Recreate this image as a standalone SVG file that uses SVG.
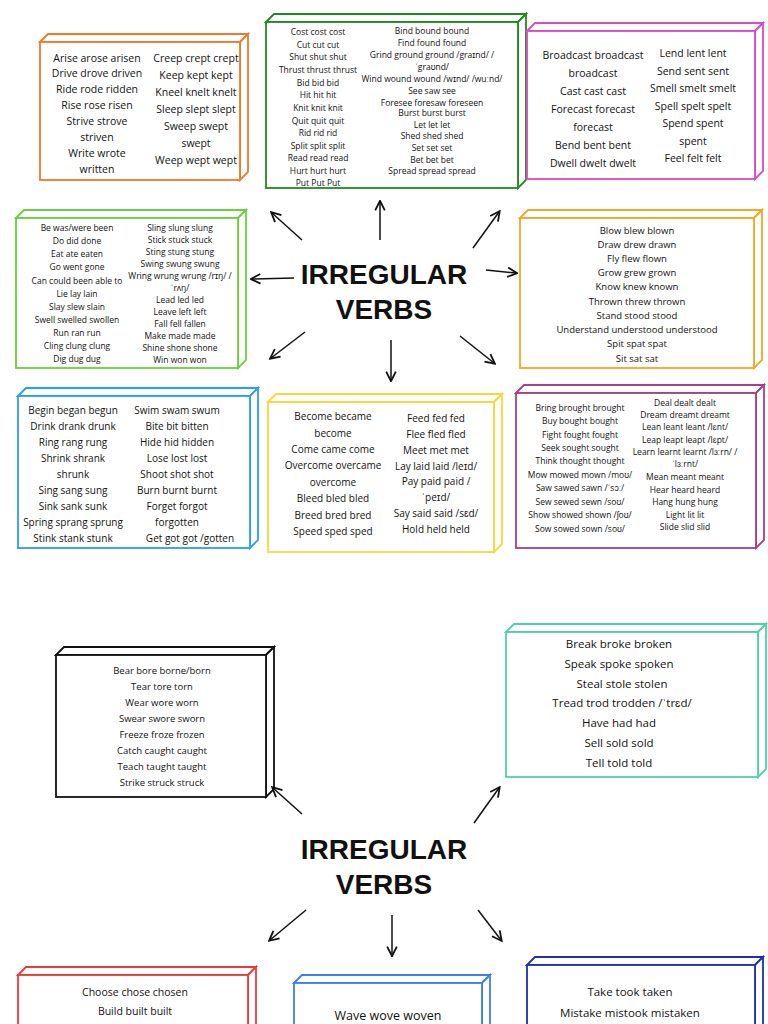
<svg xmlns="http://www.w3.org/2000/svg" width="768" height="1024" viewBox="0 0 768 1024">
<defs>
<marker id="ah" viewBox="0 0 10 10" refX="8" refY="5" markerWidth="8" markerHeight="8" orient="auto"><path d="M1,1 L9,5 L1,9" fill="none" stroke="#111" stroke-width="1.5"/></marker>
</defs>
<style>
text{font-family:"Open Sans","Liberation Sans",sans-serif;fill:#111;text-anchor:middle}
.s{font-size:10.5px}.xs{font-size:8.5px}.m{font-size:11.5px}.l{font-size:12.5px}
.t{font-family:"Liberation Sans",sans-serif;font-weight:bold;font-size:28px}
.f{fill:#fff;stroke-width:1.8}
.c{fill:none;stroke:#111;stroke-width:1.5;marker-end:url(#ah)}
</style>
<rect width="768" height="1024" fill="#fff"/>

<g id="box-orange" stroke="#f07a2a">
<polygon class="f" points="40,42 48,34 248,34 240,42"/><polygon class="f" points="240,42 248,34 248,172 240,180"/>
<rect class="f" x="40" y="42" width="200" height="138"/>
<g stroke="none"><text class="s" x="97" y="62">Arise arose arisen</text><text class="s" x="97" y="77">Drive drove driven</text><text class="s" x="97" y="93">Ride rode ridden</text><text class="s" x="97" y="109">Rise rose risen</text><text class="s" x="97" y="125">Strive strove</text><text class="s" x="97" y="141">striven</text><text class="s" x="97" y="157">Write wrote</text><text class="s" x="97" y="173">written</text>
<text class="s" x="196" y="62">Creep crept crept</text><text class="s" x="196" y="79">Keep kept kept</text><text class="s" x="196" y="96">Kneel knelt knelt</text><text class="s" x="196" y="113">Sleep slept slept</text><text class="s" x="196" y="130">Sweep swept</text><text class="s" x="196" y="147">swept</text><text class="s" x="196" y="164">Weep wept wept</text></g>
</g>

<g id="box-green" stroke="#1e8a1e">
<polygon class="f" points="266,22 274,14 526,14 518,22"/><polygon class="f" points="518,22 526,14 526,180 518,188"/>
<rect class="f" x="266" y="22" width="252" height="166"/>
<g stroke="none" class="xs">
<text x="318" y="35">Cost cost cost</text><text x="318" y="48">Cut cut cut</text><text x="318" y="60">Shut shut shut</text><text x="318" y="73">Thrust thrust thrust</text><text x="318" y="86">Bid bid bid</text><text x="318" y="98">Hit hit hit</text><text x="318" y="111">Knit knit knit</text><text x="318" y="124">Quit quit quit</text><text x="318" y="136">Rid rid rid</text><text x="318" y="149">Split split split</text><text x="318" y="161">Read read read</text><text x="318" y="174">Hurt hurt hurt</text><text x="318" y="186">Put Put Put</text>
<text x="432" y="34">Bind bound bound</text><text x="432" y="46">Find found found</text><text x="432" y="58">Grind ground ground /graɪnd/ /</text><text x="432" y="70">ˈgraʊnd/</text><text x="432" y="82">Wind wound wound /wɪnd/ /wuːnd/</text><text x="432" y="94">See saw see</text><text x="432" y="106">Foresee foresaw foreseen</text><text x="432" y="116">Burst burst burst</text><text x="432" y="128">Let let let</text><text x="432" y="139">Shed shed shed</text><text x="432" y="151">Set set set</text><text x="432" y="163">Bet bet bet</text><text x="432" y="174">Spread spread spread</text></g>
</g>

<g id="box-magenta" stroke="#d94bc6">
<polygon class="f" points="527,31 535,23 763,23 755,31"/><polygon class="f" points="755,31 763,23 763,171 755,179"/>
<rect class="f" x="527" y="31" width="228" height="148"/>
<g stroke="none" class="s"><text x="593" y="59">Broadcast broadcast</text><text x="593" y="77">broadcast</text><text x="593" y="95">Cast cast cast</text><text x="593" y="113">Forecast forecast</text><text x="593" y="131">forecast</text><text x="593" y="149">Bend bent bent</text><text x="593" y="167">Dwell dwelt dwelt</text>
<text x="693" y="57">Lend lent lent</text><text x="693" y="75">Send sent sent</text><text x="693" y="92">Smell smelt smelt</text><text x="693" y="110">Spell spelt spelt</text><text x="693" y="127">Spend spent</text><text x="693" y="145">spent</text><text x="693" y="162">Feel felt felt</text></g>
</g>

<g id="box-lightgreen" stroke="#6ad13e">
<polygon class="f" points="16,218 24,210 246,210 238,218"/><polygon class="f" points="238,218 246,210 246,360 238,368"/>
<rect class="f" x="16" y="218" width="222" height="150"/>
<g stroke="none" class="xs"><text x="77" y="231">Be was/were been</text><text x="77" y="244">Do did done</text><text x="77" y="257">Eat ate eaten</text><text x="77" y="270">Go went gone</text><text x="77" y="284">Can could been able to</text><text x="77" y="297">Lie lay lain</text><text x="77" y="310">Slay slew slain</text><text x="77" y="323">Swell swelled swollen</text><text x="77" y="336">Run ran run</text><text x="77" y="349">Cling clung clung</text><text x="77" y="362">Dig dug dug</text>
<text x="180" y="231">Sling slung slung</text><text x="180" y="243">Stick stuck stuck</text><text x="180" y="255">Sting stung stung</text><text x="180" y="267">Swing swung swung</text><text x="180" y="279">Wring wrung wrung /rɪŋ/ /</text><text x="180" y="291">ˈrʌŋ/</text><text x="180" y="303">Lead led led</text><text x="180" y="315">Leave left left</text><text x="180" y="327">Fall fell fallen</text><text x="180" y="339">Make made made</text><text x="180" y="351">Shine shone shone</text><text x="180" y="363">Win won won</text></g>
</g>

<g id="box-amber" stroke="#f5a623">
<polygon class="f" points="520,218 528,210 762,210 754,218"/><polygon class="f" points="754,218 762,210 762,360 754,368"/>
<rect class="f" x="520" y="218" width="234" height="150"/>
<g stroke="none" style="font-size:9.5px"><text x="637" y="234">Blow blew blown</text><text x="637" y="248">Draw drew drawn</text><text x="637" y="262">Fly flew flown</text><text x="637" y="276">Grow grew grown</text><text x="637" y="290">Know knew known</text><text x="637" y="305">Thrown threw thrown</text><text x="637" y="319">Stand stood stood</text><text x="637" y="333">Understand understood understood</text><text x="637" y="347">Spit spat spat</text><text x="637" y="362">Sit sat sat</text></g>
</g>

<g id="box-blue" stroke="#2a9df4">
<polygon class="f" points="18,396 26,388 258,388 250,396"/><polygon class="f" points="250,396 258,388 258,540 250,548"/>
<rect class="f" x="18" y="396" width="232" height="152"/>
<g stroke="none" style="font-size:10px"><text x="73" y="414">Begin began begun</text><text x="73" y="430">Drink drank drunk</text><text x="73" y="446">Ring rang rung</text><text x="73" y="462">Shrink shrank</text><text x="73" y="478">shrunk</text><text x="73" y="494">Sing sang sung</text><text x="73" y="510">Sink sank sunk</text><text x="73" y="526">Spring sprang sprung</text><text x="73" y="542">Stink stank stunk</text>
<text x="177" y="414">Swim swam swum</text><text x="177" y="430">Bite bit bitten</text><text x="177" y="446">Hide hid hidden</text><text x="177" y="462">Lose lost lost</text><text x="177" y="478">Shoot shot shot</text><text x="177" y="494">Burn burnt burnt</text><text x="177" y="510">Forget forgot</text><text x="177" y="526">forgotten</text><text x="190" y="542">Get got got /gotten</text></g>
</g>

<g id="box-yellow" stroke="#f7d83a">
<polygon class="f" points="268,402 276,394 502,394 494,402"/><polygon class="f" points="494,402 502,394 502,544 494,552"/>
<rect class="f" x="268" y="402" width="226" height="150"/>
<g stroke="none" style="font-size:10px"><text x="333" y="420">Become became</text><text x="333" y="437">become</text><text x="333" y="453">Come came come</text><text x="333" y="469">Overcome overcame</text><text x="333" y="486">overcome</text><text x="333" y="502">Bleed bled bled</text><text x="333" y="519">Breed bred bred</text><text x="333" y="535">Speed sped sped</text>
<text x="436" y="422">Feed fed fed</text><text x="436" y="438">Flee fled fled</text><text x="436" y="454">Meet met met</text><text x="436" y="470">Lay laid laid /leɪd/</text><text x="436" y="485">Pay paid paid /</text><text x="436" y="501">ˈpeɪd/</text><text x="436" y="517">Say said said /sɛd/</text><text x="436" y="533">Hold held held</text></g>
</g>

<g id="box-purple" stroke="#a83e8c">
<polygon class="f" points="516,393 524,385 764,385 756,393"/><polygon class="f" points="756,393 764,385 764,540 756,548"/>
<rect class="f" x="516" y="393" width="240" height="155"/>
<g stroke="none" class="xs"><text x="580" y="411">Bring brought brought</text><text x="580" y="424">Buy bought bought</text><text x="580" y="438">Fight fought fought</text><text x="580" y="451">Seek sought sought</text><text x="580" y="464">Think thought thought</text><text x="580" y="478">Mow mowed mown /moʊ/</text><text x="580" y="491">Saw sawed sawn /ˈsɔː/</text><text x="580" y="505">Sew sewed sewn /soʊ/</text><text x="580" y="518">Show showed shown /ʃoʊ/</text><text x="580" y="532">Sow sowed sown /soʊ/</text>
<text x="685" y="406">Deal dealt dealt</text><text x="685" y="418">Dream dreamt dreamt</text><text x="685" y="430">Lean leant leant /lɛnt/</text><text x="685" y="443">Leap leapt leapt /lɛpt/</text><text x="685" y="455">Learn learnt learnt /lɜːrn/ /</text><text x="685" y="467">ˈlɜːrnt/</text><text x="685" y="480">Mean meant meant</text><text x="685" y="493">Hear heard heard</text><text x="685" y="505">Hang hung hung</text><text x="685" y="518">Light lit lit</text><text x="685" y="530">Slide slid slid</text></g>
</g>

<g id="title1"><text class="t" x="384" y="284">IRREGULAR</text><text class="t" x="384" y="319">VERBS</text></g>

<g id="box-black" stroke="#111">
<polygon class="f" points="56,655 64,647 274,647 266,655"/><polygon class="f" points="266,655 274,647 274,789 266,797"/>
<rect class="f" x="56" y="655" width="210" height="142"/>
<g stroke="none" style="font-size:9.5px"><text x="162" y="674">Bear bore borne/born</text><text x="162" y="690">Tear tore torn</text><text x="162" y="706">Wear wore worn</text><text x="162" y="722">Swear swore sworn</text><text x="162" y="738">Freeze froze frozen</text><text x="162" y="754">Catch caught caught</text><text x="162" y="770">Teach taught taught</text><text x="162" y="786">Strike struck struck</text></g>
</g>

<g id="box-teal" stroke="#4fd1a8">
<polygon class="f" points="506,632 514,624 766,624 758,632"/><polygon class="f" points="758,632 766,624 766,769 758,777"/>
<rect class="f" x="506" y="632" width="252" height="145"/>
<g stroke="none" class="m"><text x="619" y="648">Break broke broken</text><text x="619" y="668">Speak spoke spoken</text><text x="622" y="688">Steal stole stolen</text><text x="622" y="707">Tread trod trodden /ˈtrɛd/</text><text x="619" y="727">Have had had</text><text x="619" y="747">Sell sold sold</text><text x="619" y="767">Tell told told</text></g>
</g>

<g id="title2"><text class="t" x="384" y="859">IRREGULAR</text><text class="t" x="384" y="894">VERBS</text></g>

<g id="box-red" stroke="#f0393a">
<polygon class="f" points="18,975 26,967 256,967 248,975"/><polygon class="f" points="248,975 256,967 256,1030 248,1030"/>
<rect class="f" x="18" y="975" width="230" height="60"/>
<g stroke="none" class="s"><text x="135" y="996">Choose chose chosen</text><text x="135" y="1015">Build built built</text></g>
</g>

<g id="box-blue2" stroke="#3d7df0">
<polygon class="f" points="294,983 302,975 490,975 482,983"/><polygon class="f" points="482,983 490,975 490,1030 482,1030"/>
<rect class="f" x="294" y="983" width="188" height="50"/>
<g stroke="none" class="l"><text x="388" y="1020">Wave wove woven</text></g>
</g>

<g id="box-navy" stroke="#1f2fb5">
<polygon class="f" points="527,965 535,957 763,957 755,965"/><polygon class="f" points="755,965 763,957 763,1030 755,1030"/>
<rect class="f" x="527" y="965" width="228" height="70"/>
<g stroke="none" class="m"><text x="630" y="996">Take took taken</text><text x="630" y="1017">Mistake mistook mistaken</text></g>
</g>

<g id="connectors">
<line class="c" x1="302" y1="240" x2="272" y2="213"/>
<line class="c" x1="380" y1="240" x2="380" y2="202"/>
<line class="c" x1="473" y1="248" x2="499" y2="212"/>
<line class="c" x1="294" y1="278" x2="252" y2="279"/>
<line class="c" x1="486" y1="270" x2="516" y2="273"/>
<line class="c" x1="305" y1="332" x2="271" y2="358"/>
<line class="c" x1="391" y1="340" x2="391" y2="380"/>
<line class="c" x1="460" y1="336" x2="494" y2="363"/>
<line class="c" x1="302" y1="814" x2="273" y2="788"/>
<line class="c" x1="474" y1="823" x2="499" y2="788"/>
<line class="c" x1="306" y1="910" x2="270" y2="940"/>
<line class="c" x1="392" y1="915" x2="392" y2="955"/>
<line class="c" x1="478" y1="910" x2="501" y2="940"/>
</g>
</svg>
